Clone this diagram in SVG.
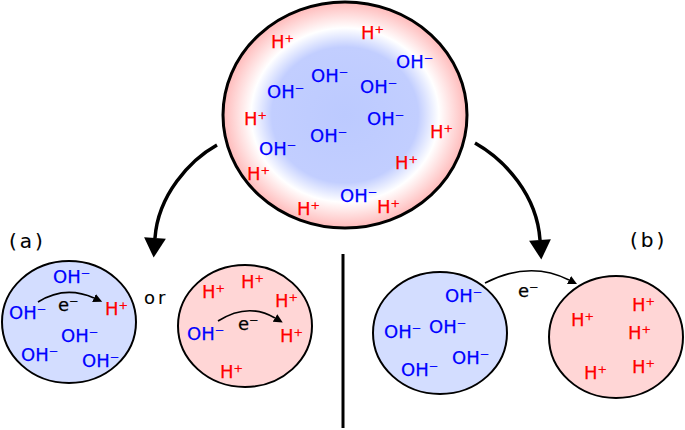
<svg xmlns="http://www.w3.org/2000/svg" width="685" height="430" viewBox="0 0 685 430">
<defs>
<radialGradient id="g" cx="0.5" cy="0.5" r="0.5">
<stop offset="0" stop-color="#bccaff"/>
<stop offset="0.6" stop-color="#c2ceff"/>
<stop offset="0.77" stop-color="#ffffff"/>
<stop offset="1" stop-color="#ffbaba"/>
</radialGradient>
<marker id="big" markerUnits="userSpaceOnUse" markerWidth="24" markerHeight="24" viewBox="0 -11 20 22" refX="0" refY="0" orient="auto">
<path d="M0,-10 L18,0 L0,10 z" fill="#000"/>
</marker>
<marker id="sm" markerUnits="userSpaceOnUse" markerWidth="12" markerHeight="12" viewBox="0 -6 12 12" refX="0" refY="0" orient="auto">
<path d="M0,-4.5 L9,0 L0,4.5 z" fill="#000"/>
</marker>
<style>
text{font-family:"DejaVu Sans",sans-serif;font-size:18px;stroke-width:0.25px}
.b{fill:#0000ff;stroke:#0000ff}
.r{fill:#ff0000;stroke:#ff0000}
.k{fill:#000;stroke:#000}
.lbl{font-size:20px;letter-spacing:3px;stroke-width:0.1px}
.or{letter-spacing:3px;stroke-width:0.1px}
.bl{fill:#d3ddff;stroke:#000;stroke-width:2}
.pk{fill:#ffd6d6;stroke:#000;stroke-width:2}
.bigarr{fill:none;stroke:#000;stroke-width:3.5}
.smarr{fill:none;stroke:#000;stroke-width:1.6}
</style>
</defs>
<rect width="685" height="430" fill="#fff"/>
<g id="big-drop">
<ellipse cx="345" cy="115" rx="122" ry="113" fill="url(#g)" stroke="#000" stroke-width="3"/>
<text class="r" x="271" y="48">H⁺</text>
<text class="r" x="361" y="39">H⁺</text>
<text class="b" x="396" y="68">OH⁻</text>
<text class="b" x="311" y="82">OH⁻</text>
<text class="b" x="360" y="93">OH⁻</text>
<text class="b" x="267" y="98">OH⁻</text>
<text class="r" x="244" y="125">H⁺</text>
<text class="b" x="367" y="125">OH⁻</text>
<text class="r" x="430" y="138">H⁺</text>
<text class="b" x="310" y="142">OH⁻</text>
<text class="b" x="259" y="155">OH⁻</text>
<text class="r" x="395" y="169">H⁺</text>
<text class="r" x="247" y="180">H⁺</text>
<text class="b" x="340" y="202">OH⁻</text>
<text class="r" x="297" y="215">H⁺</text>
<text class="r" x="377" y="213">H⁺</text>
</g>
<g id="a-blue">
<ellipse class="bl" cx="69" cy="322" rx="67" ry="61"/>
<text class="b" x="53" y="283">OH⁻</text>
<text class="b" x="9" y="319">OH⁻</text>
<text class="r" x="105" y="315">H⁺</text>
<text class="k" x="58" y="311">e⁻</text>
<text class="b" x="61" y="342">OH⁻</text>
<text class="b" x="21" y="361">OH⁻</text>
<text class="b" x="82" y="367">OH⁻</text>
</g>
<g id="a-pink">
<ellipse class="pk" cx="245" cy="326" rx="67" ry="61"/>
<text class="r" x="202" y="298">H⁺</text>
<text class="r" x="241" y="288">H⁺</text>
<text class="r" x="275" y="307">H⁺</text>
<text class="b" x="187" y="340">OH⁻</text>
<text class="k" x="238" y="330">e⁻</text>
<text class="r" x="280" y="342">H⁺</text>
<text class="r" x="220" y="378">H⁺</text>
</g>
<g id="b-blue">
<ellipse class="bl" cx="440" cy="333" rx="67" ry="61"/>
<text class="b" x="445" y="302">OH⁻</text>
<text class="b" x="384" y="338">OH⁻</text>
<text class="b" x="429" y="333">OH⁻</text>
<text class="b" x="452" y="364">OH⁻</text>
<text class="b" x="401" y="376">OH⁻</text>
</g>
<g id="b-pink">
<ellipse class="pk" cx="616" cy="337" rx="67" ry="61"/>
<text class="r" x="571" y="326">H⁺</text>
<text class="r" x="632" y="311">H⁺</text>
<text class="r" x="628" y="339">H⁺</text>
<text class="r" x="632" y="373">H⁺</text>
<text class="r" x="584" y="379">H⁺</text>
</g>
<g id="labels">
<text class="k lbl" x="9" y="248">(a)</text>
<text class="k lbl" x="630" y="247">(b)</text>
<text class="k or" x="144" y="304">or</text>
<text class="k" x="518" y="297">e⁻</text>
</g>
<g id="connectors">
<path class="bigarr" d="M217,145 C190,160 158,195 155,238" marker-end="url(#big)"/>
<path class="bigarr" d="M475,143 C505,160 537,195 540,240" marker-end="url(#big)"/>
<path class="smarr" d="M38,302 Q65,285 94,298" marker-end="url(#sm)"/>
<path class="smarr" d="M218,321 Q248,302 275,318" marker-end="url(#sm)"/>
<path class="smarr" d="M485,283 Q530,260 569,280" marker-end="url(#sm)"/>
<line x1="343" y1="254" x2="343" y2="428" stroke="#000" stroke-width="3"/>
</g>
</svg>
